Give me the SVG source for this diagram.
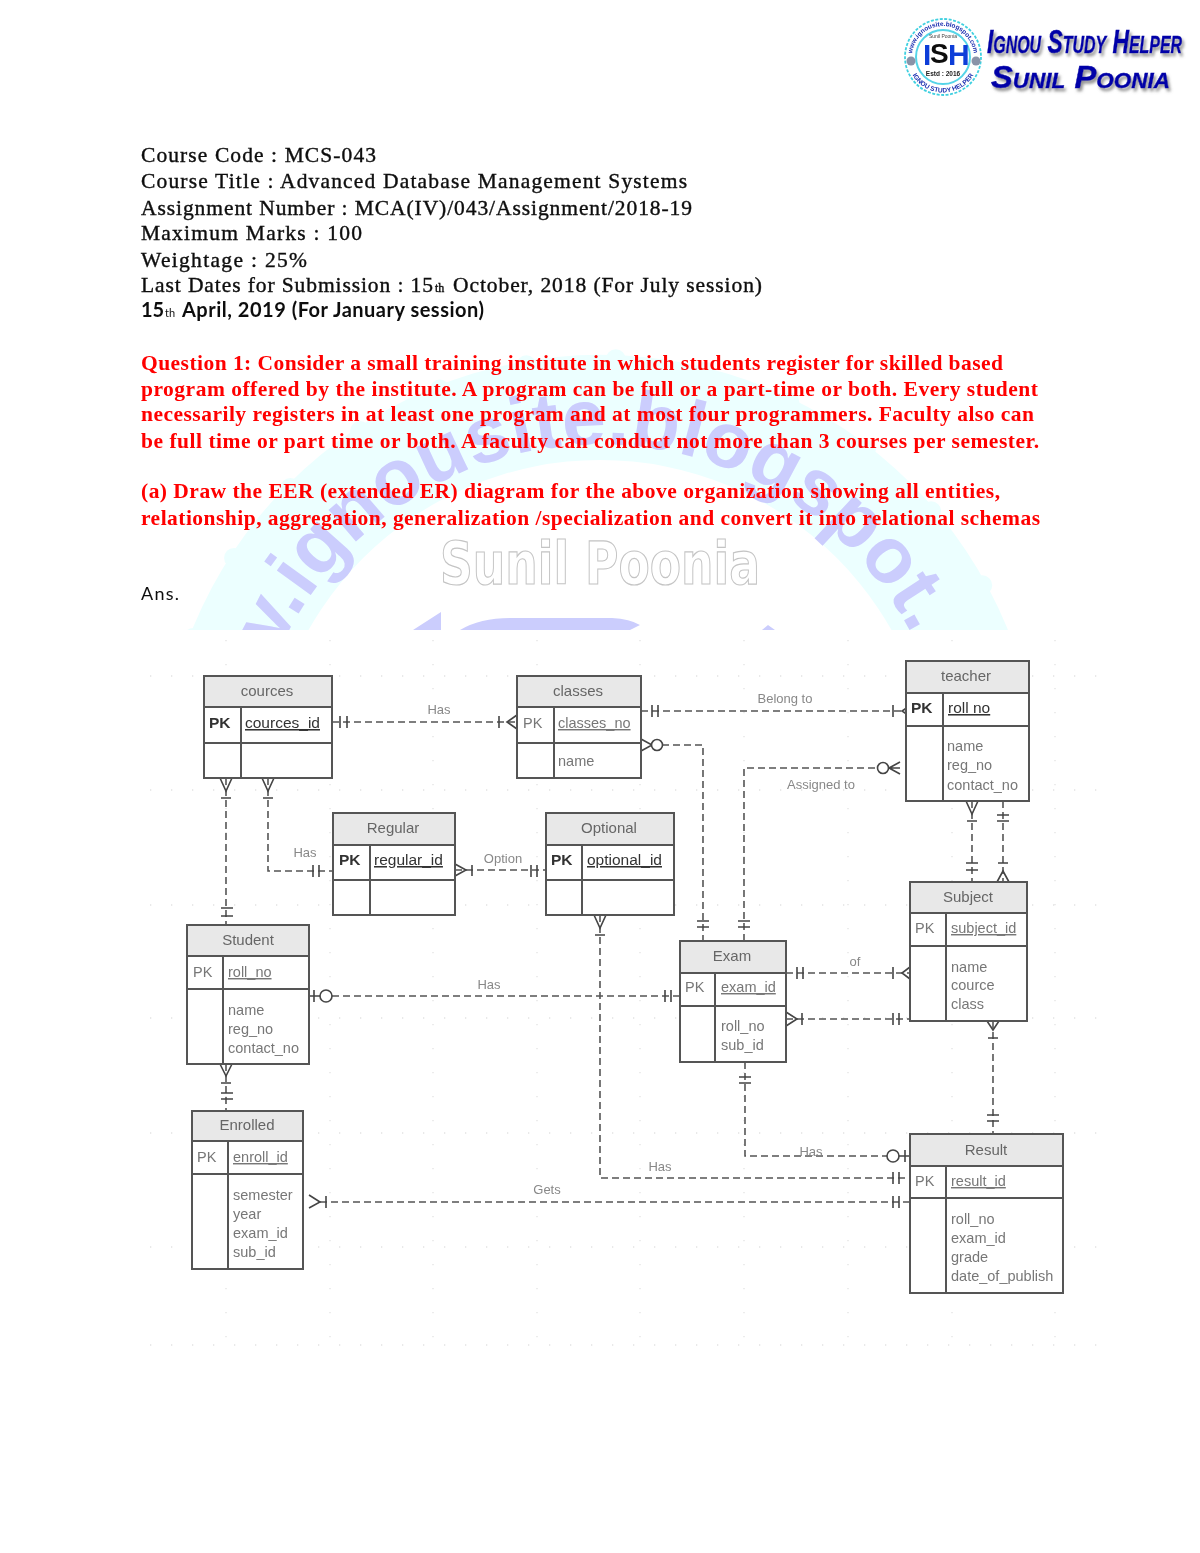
<svg xmlns="http://www.w3.org/2000/svg" width="1200" height="1553" viewBox="0 0 1200 1553">
<style>
text{font-family:"Liberation Sans",Arial,sans-serif}
.bk{font-family:"Liberation Serif","Times New Roman",serif;font-size:21.5px;fill:#111;stroke:#111;stroke-width:.4}
.rd{font-family:"Liberation Serif","Times New Roman",serif;font-size:21.5px;font-weight:bold;fill:#f00}
.sup{font-size:12px}
.cal{font-family:Lato,"Noto Sans",sans-serif;fill:#111}
.box{fill:#fff;stroke:#555;stroke-width:2}
.hd{fill:#e8e8e8;stroke:#555;stroke-width:2}
.ln{fill:none;stroke:#555;stroke-width:2}
.t{font-size:15px;fill:#666;text-anchor:middle}
.f{font-size:14.5px;fill:#777}
.d{font-size:15.5px;fill:#333}
.db{font-size:15.5px;fill:#333;font-weight:bold}
.u{text-decoration:underline}
.lab{font-size:13px;fill:#888;text-anchor:middle}
.dash{fill:none;stroke:#555;stroke-width:1.6;stroke-dasharray:7 4}
.sym{fill:none;stroke:#444;stroke-width:1.6}
.circ{fill:#fff;stroke:#444;stroke-width:1.6}
.grid{fill:none;stroke:#e2e2e2;stroke-width:1.3}
.lg{font-weight:bold;font-style:italic;font-variant:small-caps;fill:#0000a8;stroke:#0000a8;stroke-width:.5}
</style>
<defs>
<filter id="soft" x="-5%" y="-5%" width="110%" height="110%"><feGaussianBlur stdDeviation="0.7"/></filter>
<filter id="soft2" x="-5%" y="-5%" width="110%" height="110%"><feGaussianBlur stdDeviation="0.35"/></filter>
<filter id="shadow" x="-10%" y="-30%" width="120%" height="170%"><feDropShadow dx="2" dy="3" stdDeviation="1.8" flood-color="#777" flood-opacity=".8"/></filter>
<clipPath id="wm"><rect x="0" y="0" width="1200" height="630"/></clipPath>
<path id="arc" d="M278.4 651.8 A352 352 0 0 1 940 885"/>
<path id="lgTop" d="M912 57 A31 31 0 0 1 974 57"/>
<path id="lgBot" d="M907.500 57 A35.500 35.500 0 0 0 978.500 57"/>
</defs>

<g id="watermark" clip-path="url(#wm)">
<path fill="#ecffff" fill-rule="evenodd" d="M160 795a440 440 0 1 1 880 0a440 440 0 1 1-880 0ZM265 795a335 335 0 1 0 670 0a335 335 0 1 0-670 0Z"/>
<circle cx="600" cy="795" r="436" fill="none" stroke="#ecffff" stroke-width="20" stroke-linecap="round" stroke-dasharray="0 90"/>
<text font-size="79" font-weight="bold" fill="#cbcdfd"><textPath href="#arc">v.ignousite.blogspot.</textPath></text>
<path fill="#cbcdfd" d="M413 630L441 612V630ZM460 630Q480 618 510 618H612Q630 619 640 625L630 630ZM762 630L768 625L775 630Z"/>
<text x="440" y="584" font-size="58" font-weight="bold" textLength="320" lengthAdjust="spacingAndGlyphs" fill="#fff" stroke="#c4c4c4" stroke-width="1.2" style="font-family:'DejaVu Sans',sans-serif">Sunil Poonia</text>
</g>

<g id="logo" filter="url(#soft2)">
<circle cx="943" cy="57" r="38" fill="#fff" stroke="#3fd0e0" stroke-width="1.8" stroke-dasharray="3 1.5"/>
<circle cx="943" cy="57" r="27" fill="#fff" stroke="#55d5e8" stroke-width="2"/>
<circle cx="911" cy="61" r="4.500" fill="#8a93a8"/>
<circle cx="976" cy="61" r="4.500" fill="#8a93a8"/>
<text font-size="6.500" font-weight="bold" fill="#1b2fb0" text-anchor="middle"><textPath href="#lgTop" startOffset="50%">www.ignousite.blogspot.com</textPath></text>
<text font-size="6.500" font-weight="bold" fill="#1b2fb0" text-anchor="middle"><textPath href="#lgBot" startOffset="50%">IGNOU STUDY HELPER</textPath></text>
<text x="943" y="38" font-size="5" fill="#444" text-anchor="middle">Sunil Poonia</text>
<text x="923" y="65" font-size="30" font-weight="bold" fill="#0a3cd8">I</text>
<text x="948" y="65" font-size="30" font-weight="bold" fill="#0a3cd8">H</text>
<text x="930" y="63" font-size="28" font-weight="bold" fill="#111">S</text>
<text x="943" y="76" font-size="6.500" font-weight="bold" fill="#222" text-anchor="middle">Estd : 2016</text>
<g filter="url(#shadow)">
<text class="lg" x="987" y="53" font-size="33" textLength="195" lengthAdjust="spacingAndGlyphs">Ignou Study Helper</text>
<text class="lg" x="991" y="88" font-size="32" textLength="179" lengthAdjust="spacingAndGlyphs">Sunil Poonia</text>
</g>
</g>

<g id="heading" filter="url(#soft2)">
<text class="bk" x="141" y="162" textLength="235">Course Code : MCS-043</text>
<text class="bk" x="141" y="188" textLength="546">Course Title : Advanced Database Management Systems</text>
<text class="bk" x="141" y="215" textLength="551">Assignment Number : MCA(IV)/043/Assignment/2018-19</text>
<text class="bk" x="141" y="240" textLength="221">Maximum Marks : 100</text>
<text class="bk" x="141" y="267" textLength="166">Weightage : 25%</text>
<text class="bk" x="141" y="292" textLength="292">Last Dates for Submission : 15</text>
<text class="bk sup" x="435" y="292">th</text>
<text class="bk" x="453" y="292" textLength="309">October, 2018 (For July session)</text>
<text class="cal" x="141" y="317" font-size="20" font-weight="bold">15</text>
<text class="cal" x="165" y="317" font-size="11">th</text>
<text class="cal" x="182" y="317" font-size="20" font-weight="bold" textLength="302">April, 2019 (For January session)</text>
</g>

<g id="question" filter="url(#soft2)">
<text class="rd" x="141" y="370" textLength="862">Question 1: Consider a small training institute in which students register for skilled based</text>
<text class="rd" x="141" y="396" textLength="897">program offered by the institute. A program can be full or a part-time or both. Every student</text>
<text class="rd" x="141" y="421" textLength="893">necessarily registers in at least one program and at most four programmers. Faculty also can</text>
<text class="rd" x="141" y="448" textLength="898">be full time or part time or both. A faculty can conduct not more than 3 courses per semester.</text>
<text class="rd" x="141" y="498" textLength="859">(a) Draw the EER (extended ER) diagram for the above organization showing all entities,</text>
<text class="rd" x="141" y="525" textLength="899">relationship, aggregation, generalization /specialization and convert it into relational schemas</text>
<text class="cal" x="141" y="600" font-size="18" textLength="38">Ans.</text>
</g>

<g id="er" filter="url(#soft)">
<path id="grid" class="grid" stroke-dasharray="1.300 19.700" d="M150 676H1110M150 790H1110M150 905H1110M150 1018H1110M150 1133H1110M150 1247H1110M150 1345H1110"/>
<path class="grid" stroke-dasharray="1.300 22.700" d="M226 640V1350M330 640V1350M433 640V1350M537 640V1350M640 640V1350M744 640V1350M848 640V1350M952 640V1350M1055 640V1350"/>

<g id="connectors">
<g id="c-cources-classes"><path class="dash" d="M332 722H517"/><path class="sym" d="M340 716v12M347 716v12M499 716v12M517 715L507 722L517 729"/></g>
<g id="c-classes-teacher"><path class="dash" d="M641 711H906"/><path class="sym" d="M652 705v12M658 705v12M893 705v12M911 705L902 711L911 717"/></g>
<g id="c-classes-exam"><path class="dash" d="M662 745H703V941"/><path class="sym" d="M641 739L652 745L641 751M697 921h12M697 927h12"/><circle class="circ" cx="657" cy="745" r="5.500"/></g>
<g id="c-exam-teacher"><path class="dash" d="M744 941V768H878"/><path class="sym" d="M738 921h12M738 927h12M900 762L889 768L900 774M889 768H900"/><circle class="circ" cx="883" cy="768" r="5.500"/></g>
<g id="c-cources-student"><path class="dash" d="M226 778V925"/><path class="sym" d="M220 778L226 791L232 778M221 798h10M221 908h12M221 916h12"/></g>
<g id="c-cources-regular"><path class="dash" d="M268 778V871H333"/><path class="sym" d="M262 778L268 791L274 778M263 798h10M313 865v12M319 865v12"/></g>
<g id="c-regular-optional"><path class="dash" d="M455 870H546"/><path class="sym" d="M455 864L466 870L455 876M472 865v11M531 865v12M537 865v12"/></g>
<g id="c-optional-result"><path class="dash" d="M600 915V1178H910"/><path class="sym" d="M594 915L600 928L606 915M595 935h10M893 1172v12M899 1172v12"/></g>
<g id="c-student-exam"><path class="dash" d="M332 996H680"/><path class="sym" d="M309 996H320M314 990v12M665 990v12M671 990v12"/><circle class="circ" cx="326" cy="996" r="6"/></g>
<g id="c-student-enrolled"><path class="dash" d="M226 1064V1111"/><path class="sym" d="M220 1064L226 1076L232 1064M221 1083h10M221 1093h12M221 1099h12"/></g>
<g id="c-enrolled-result"><path class="dash" d="M320 1202H910"/><path class="sym" d="M309 1195L320 1202L309 1208M326 1196v12M893 1196v12M899 1196v12"/></g>
<g id="c-exam-subject-of"><path class="dash" d="M786 973H910"/><path class="sym" d="M797 967v12M803 967v12M893 967v12M910 967L902 973L910 979"/></g>
<g id="c-subject-exam"><path class="dash" d="M786 1019H910"/><path class="sym" d="M786 1012L797 1019L786 1026M802 1013v12M893 1013v12M899 1013v12"/></g>
<g id="c-exam-result"><path class="dash" d="M745 1062V1156H887"/><path class="sym" d="M739 1077h12M739 1083h12M899 1156h11M905 1150v12"/><circle class="circ" cx="893" cy="1156" r="6"/></g>
<g id="c-subject-result"><path class="dash" d="M993 1021V1134"/><path class="sym" d="M987 1021L993 1030L999 1021M988 1038h10M987 1115h12M987 1121h12"/></g>
<g id="c-teacher-subject-a"><path class="dash" d="M972 801V882"/><path class="sym" d="M966 801L972 814L978 801M967 821h10M966 863h12M966 870h12"/></g>
<g id="c-teacher-subject-b"><path class="dash" d="M1003 801V882"/><path class="sym" d="M997 815h12M997 821h12M998 863h10M997 882L1003 871L1009 882"/></g>
<text class="lab" x="439" y="714">Has</text>
<text class="lab" x="785" y="703">Belong to</text>
<text class="lab" x="821" y="789">Assigned to</text>
<text class="lab" x="305" y="857">Has</text>
<text class="lab" x="503" y="863">Option</text>
<text class="lab" x="489" y="989">Has</text>
<text class="lab" x="855" y="966">of</text>
<text class="lab" x="811" y="1156">Has</text>
<text class="lab" x="660" y="1171">Has</text>
<text class="lab" x="547" y="1194">Gets</text>
</g>

<g id="cources"><rect class="box" x="204" y="676" width="128" height="102"/><rect class="hd" x="204" y="676" width="128" height="31"/><path class="ln" d="M204 743H332M241 707V778"/><text class="t" x="267" y="696">cources</text><text class="db" x="209" y="728">PK</text><text class="d u" x="245" y="728">cources_id</text></g>
<g id="classes"><rect class="box" x="517" y="676" width="124" height="102"/><rect class="hd" x="517" y="676" width="124" height="31"/><path class="ln" d="M517 743H641M554 707V778"/><text class="t" x="578" y="696">classes</text><text class="f" x="523" y="728">PK</text><text class="f u" x="558" y="728">classes_no</text><text class="f" x="558" y="766">name</text></g>
<g id="regular"><rect class="box" x="333" y="813" width="122" height="102"/><rect class="hd" x="333" y="813" width="122" height="32"/><path class="ln" d="M333 880H455M370 845V915"/><text class="t" x="393" y="833">Regular</text><text class="db" x="339" y="865">PK</text><text class="d u" x="374" y="865">regular_id</text></g>
<g id="optional"><rect class="box" x="546" y="813" width="128" height="102"/><rect class="hd" x="546" y="813" width="128" height="32"/><path class="ln" d="M546 880H674M582 845V915"/><text class="t" x="609" y="833">Optional</text><text class="db" x="551" y="865">PK</text><text class="d u" x="587" y="865">optional_id</text></g>
<g id="teacher"><rect class="box" x="906" y="661" width="123" height="140"/><rect class="hd" x="906" y="661" width="123" height="32"/><path class="ln" d="M906 726H1029M943 693V801"/><text class="t" x="966" y="681">teacher</text><text class="db" x="911" y="713">PK</text><text class="d u" x="948" y="713">roll no</text><text class="f" x="947" y="751">name</text><text class="f" x="947" y="770">reg_no</text><text class="f" x="947" y="790">contact_no</text></g>
<g id="subject"><rect class="box" x="910" y="882" width="117" height="139"/><rect class="hd" x="910" y="882" width="117" height="31"/><path class="ln" d="M910 946H1027M946 913V1021"/><text class="t" x="968" y="902">Subject</text><text class="f" x="915" y="933">PK</text><text class="f u" x="951" y="933">subject_id</text><text class="f" x="951" y="972">name</text><text class="f" x="951" y="990">cource</text><text class="f" x="951" y="1009">class</text></g>
<g id="student"><rect class="box" x="187" y="925" width="122" height="139"/><rect class="hd" x="187" y="925" width="122" height="31"/><path class="ln" d="M187 989H309M223 956V1064"/><text class="t" x="248" y="945">Student</text><text class="f" x="193" y="977">PK</text><text class="f u" x="228" y="977">roll_no</text><text class="f" x="228" y="1015">name</text><text class="f" x="228" y="1034">reg_no</text><text class="f" x="228" y="1053">contact_no</text></g>
<g id="enrolled"><rect class="box" x="192" y="1111" width="111" height="158"/><rect class="hd" x="192" y="1111" width="111" height="30"/><path class="ln" d="M192 1174H303M228 1141V1269"/><text class="t" x="247" y="1130">Enrolled</text><text class="f" x="197" y="1162">PK</text><text class="f u" x="233" y="1162">enroll_id</text><text class="f" x="233" y="1200">semester</text><text class="f" x="233" y="1219">year</text><text class="f" x="233" y="1238">exam_id</text><text class="f" x="233" y="1257">sub_id</text></g>
<g id="exam"><rect class="box" x="680" y="941" width="106" height="121"/><rect class="hd" x="680" y="941" width="106" height="32"/><path class="ln" d="M680 1006H786M715 973V1062"/><text class="t" x="732" y="961">Exam</text><text class="f" x="685" y="992">PK</text><text class="f u" x="721" y="992">exam_id</text><text class="f" x="721" y="1031">roll_no</text><text class="f" x="721" y="1050">sub_id</text></g>
<g id="result"><rect class="box" x="910" y="1134" width="153" height="159"/><rect class="hd" x="910" y="1134" width="153" height="32"/><path class="ln" d="M910 1198H1063M946 1166V1293"/><text class="t" x="986" y="1155">Result</text><text class="f" x="915" y="1186">PK</text><text class="f u" x="951" y="1186">result_id</text><text class="f" x="951" y="1224">roll_no</text><text class="f" x="951" y="1243">exam_id</text><text class="f" x="951" y="1262">grade</text><text class="f" x="951" y="1281">date_of_publish</text></g>
</g>
</svg>
